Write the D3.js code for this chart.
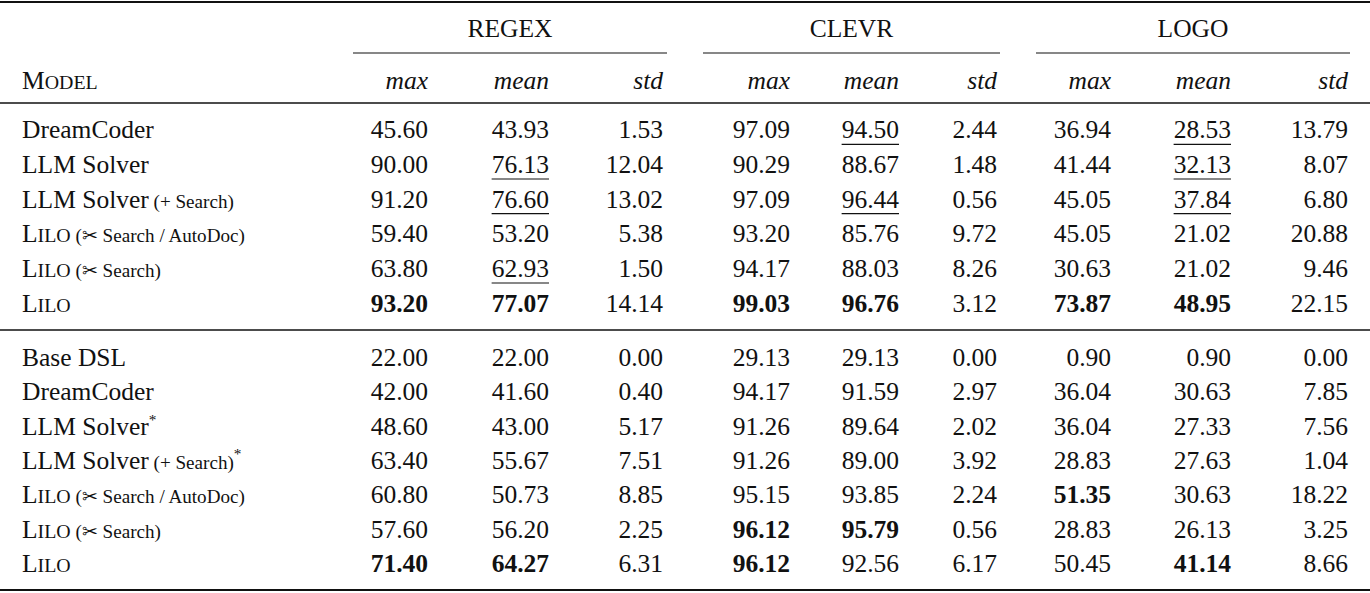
<!DOCTYPE html>
<html><head><meta charset="utf-8">
<script src="https://cdn.jsdelivr.net/npm/d3@7"></script>
<style>body{margin:0;background:#fff}text{font-family:"Liberation Serif","DejaVu Serif",serif;fill:#111}</style>
</head><body><svg id="c" width="1370" height="593"></svg>
<script>
const groups=["REGEX","CLEVR","LOGO"];
const metrics=["max","mean","std"];
// model names: [main, small suffix, smallcaps?, asterisk?]
const models1=[["DreamCoder","",false,false],["LLM Solver","",false,false],["LLM Solver"," (+ Search)",false,false],["LILO"," (✂ Search / AutoDoc)",true,false],["LILO"," (✂ Search)",true,false],["LILO","",true,false]];
const values1=[
[45.60,43.93,1.53,97.09,94.50,2.44,36.94,28.53,13.79],
[90.00,76.13,12.04,90.29,88.67,1.48,41.44,32.13,8.07],
[91.20,76.60,13.02,97.09,96.44,0.56,45.05,37.84,6.80],
[59.40,53.20,5.38,93.20,85.76,9.72,45.05,21.02,20.88],
[63.80,62.93,1.50,94.17,88.03,8.26,30.63,21.02,9.46],
[93.20,77.07,14.14,99.03,96.76,3.12,73.87,48.95,22.15]];
const bold1=[[5,0],[5,1],[5,3],[5,4],[5,6],[5,7]];
const under1=[[0,4],[0,7],[1,1],[1,7],[2,1],[2,4],[2,7],[4,1]];
const models2=[["Base DSL","",false,false],["DreamCoder","",false,false],["LLM Solver","",false,true],["LLM Solver"," (+ Search)",false,true],["LILO"," (✂ Search / AutoDoc)",true,false],["LILO"," (✂ Search)",true,false],["LILO","",true,false]];
const values2=[
[22.00,22.00,0.00,29.13,29.13,0.00,0.90,0.90,0.00],
[42.00,41.60,0.40,94.17,91.59,2.97,36.04,30.63,7.85],
[48.60,43.00,5.17,91.26,89.64,2.02,36.04,27.33,7.56],
[63.40,55.67,7.51,91.26,89.00,3.92,28.83,27.63,1.04],
[60.80,50.73,8.85,95.15,93.85,2.24,51.35,30.63,18.22],
[57.60,56.20,2.25,96.12,95.79,0.56,28.83,26.13,3.25],
[71.40,64.27,6.31,96.12,92.56,6.17,50.45,41.14,8.66]];
const bold2=[[4,6],[5,3],[5,4],[6,0],[6,1],[6,3],[6,7]];
const under2=[];

const svg=d3.select("#c");
const colX=d3.scaleOrdinal().domain(d3.range(9)).range([428,549,663,790,899,997,1111,1231,1348]);
const grpX=d3.scaleOrdinal().domain(groups).range([[353,667],[703,1000],[1036,1350]]);
const FS=25.5;
function rule(y,w){svg.append("line").attr("x1",0).attr("x2",1370).attr("y1",y).attr("y2",y).attr("stroke","#111").attr("stroke-width",w);}
rule(2,2.2);rule(103,1.6);rule(330,1.6);rule(590,2.2);
groups.forEach(g=>{const [a,b]=grpX(g);
 svg.append("text").attr("x",(a+b)/2).attr("y",37).attr("text-anchor","middle").attr("font-size",FS).text(g);
 svg.append("line").attr("x1",a).attr("x2",b).attr("y1",53).attr("y2",53).attr("stroke","#111").attr("stroke-width",1.2);});
const mt=svg.append("text").attr("x",22).attr("y",89).attr("font-size",FS);
mt.append("tspan").text("M");mt.append("tspan").attr("font-size",FS*0.78).text("ODEL");
d3.range(9).forEach(i=>svg.append("text").attr("x",colX(i)).attr("y",89).attr("text-anchor","end").attr("font-size",FS).attr("font-style","italic").text(metrics[i%3]));

function block(models,values,bold,under,y0,y1){
 const y=d3.scaleBand().domain(d3.range(models.length)).range([y0,y1]);
 models.forEach((m,r)=>{
  const yy=y(r)+y.bandwidth()/2+9;
  const t=svg.append("text").attr("x",22).attr("y",yy).attr("font-size",FS);
  if(m[2]){t.append("tspan").text(m[0][0]);t.append("tspan").attr("font-size",FS*0.78).text(m[0].slice(1));}
  else t.append("tspan").text(m[0]);
  if(m[1])t.append("tspan").attr("font-size",FS*0.75).text(m[1]);
  if(m[3])t.append("tspan").attr("font-size",FS*0.6).attr("dy",-10).text("*");
  values[r].forEach((v,c)=>{
   const isB=bold.some(b=>b[0]==r&&b[1]==c);
   const tx=svg.append("text").attr("x",colX(c)).attr("y",yy).attr("text-anchor","end").attr("font-size",FS).attr("font-weight",isB?"bold":"normal").text(v.toFixed(2));
   if(under.some(b=>b[0]==r&&b[1]==c)){const w=tx.node().getComputedTextLength();
    svg.append("line").attr("x1",colX(c)-w).attr("x2",colX(c)).attr("y1",yy+6).attr("y2",yy+6).attr("stroke","#111").attr("stroke-width",1.2);}
  });
 });
}
block(models1,values1,bold1,under1,112,320);
block(models2,values2,bold2,under2,340,580);
</script></body></html>
